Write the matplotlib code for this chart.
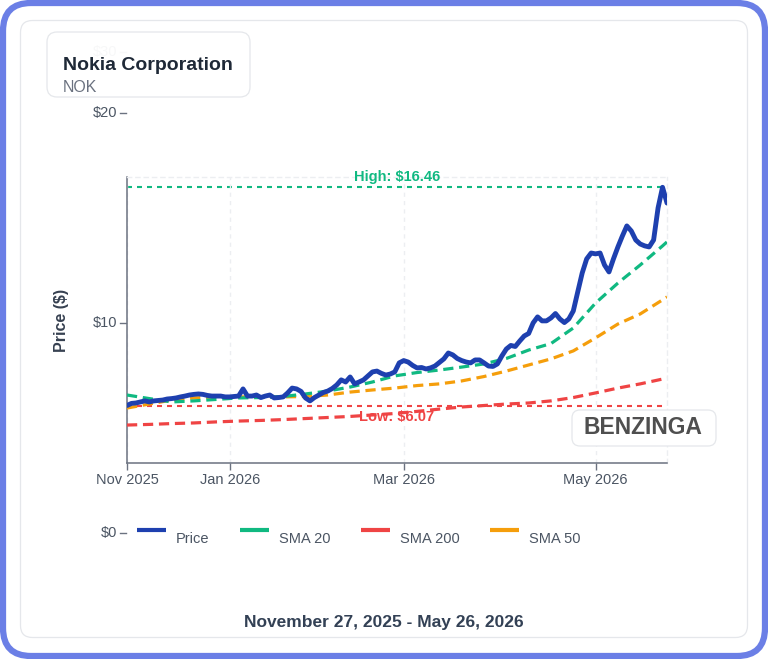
import numpy as np
import pandas as pd
import matplotlib
matplotlib.use("Agg")
import matplotlib.pyplot as plt
import matplotlib.transforms as mtransforms
from matplotlib.patches import FancyBboxPatch

plt.rcParams['font.family'] = ['Liberation Sans', 'DejaVu Sans']

# trading days shown on the chart (weekends + market holidays skipped)
holidays = ['2025-12-25', '2026-01-01', '2026-01-19', '2026-02-16', '2026-04-03', '2026-05-25']
dates = pd.bdate_range('2025-11-28', '2026-05-26', freq='C', holidays=holidays)

price = [6.07, 6.17, 6.19, 6.24, 6.29, 6.24, 6.29, 6.31, 6.33, 6.38,
         6.40, 6.43, 6.48, 6.52, 6.57, 6.60, 6.62, 6.60, 6.55, 6.52,
         6.52, 6.52, 6.48, 6.48, 6.50, 6.52, 6.86, 6.52, 6.52, 6.57,
         6.45, 6.52, 6.57, 6.43, 6.45, 6.48, 6.67, 6.90, 6.86, 6.74,
         6.43, 6.29, 6.45, 6.57, 6.69, 6.76, 6.88, 7.05, 7.29, 7.19,
         7.43, 7.10, 7.19, 7.29, 7.48, 7.67, 7.71, 7.60, 7.52, 7.57,
         7.67, 8.10, 8.21, 8.14, 7.98, 7.86, 7.88, 7.81, 7.86, 7.95,
         8.12, 8.29, 8.57, 8.48, 8.31, 8.21, 8.14, 8.10, 8.24, 8.24,
         8.10, 7.95, 7.93, 8.05, 8.43, 8.76, 8.93, 8.88, 9.14, 9.38,
         9.50, 10.00, 10.29, 10.10, 10.10, 10.24, 10.45, 10.19, 10.02, 10.19,
         10.57, 11.48, 12.38, 13.05, 13.33, 13.29, 13.33, 12.76, 12.43, 13.05,
         13.62, 14.14, 14.62, 14.38, 13.95, 13.76, 13.67, 13.62, 13.95, 15.48,
         16.46, 15.71]

# moving averages read every 5 trading days
sma_idx = list(range(0, 121, 5)) + [121]
sma20 = [6.57, 6.40, 6.24, 6.29, 6.36, 6.43, 6.45, 6.50, 6.62, 6.76, 6.95, 7.19, 7.48,
         7.64, 7.76, 7.90, 8.05, 8.31, 8.71, 9.02, 9.76, 10.95, 11.90, 12.76, 13.67, 13.86]
sma50 = [5.95, 6.14, 6.33, 6.43, 6.48, 6.48, 6.48, 6.48, 6.50, 6.57, 6.71, 6.81, 6.90,
         7.02, 7.10, 7.24, 7.45, 7.71, 8.00, 8.29, 8.67, 9.29, 9.95, 10.43, 11.10, 11.24]
sma200 = [5.14, 5.17, 5.21, 5.24, 5.29, 5.33, 5.36, 5.40, 5.45, 5.50, 5.55, 5.62, 5.69,
          5.79, 5.90, 6.00, 6.07, 6.14, 6.19, 6.29, 6.45, 6.67, 6.90, 7.10, 7.33, 7.38]

high_val = 16.46
low_val = 6.07
month_starts = ['2025-11-01', '2026-01-01', '2026-03-01', '2026-05-01']
month_labels = ['Nov 2025', 'Jan 2026', 'Mar 2026', 'May 2026']
y_tick_labels = ['$0', '$10', '$20', '$30']
# the source chart drew its $30 label squeezed up under the title card
y_tick_at = [0, 10, 20, 22.9]

C_PRICE = '#1e40af'
C_SMA20 = '#10b981'
C_SMA200 = '#ef4444'
C_SMA50 = '#f59e0b'
C_TICK = '#4b5563'

W, H = 768, 659
fig = plt.figure(figsize=(W / 100, H / 100), dpi=100)
fig.patch.set_facecolor('white')

# background layer in pixel coords
bg = fig.add_axes([0, 0, 1, 1], zorder=0)
bg.set_xlim(0, W)
bg.set_ylim(H, 0)
bg.axis('off')
bg.add_patch(FancyBboxPatch((3, 3), W - 6, H - 6, boxstyle='round,pad=0,rounding_size=28',
                            fc='white', ec='#6b7fe6', lw=4.5))
bg.add_patch(FancyBboxPatch((20.5, 20.5), 727, 617, boxstyle='round,pad=0,rounding_size=12',
                            fc='white', ec='#e5e7eb', lw=0.9))

# main chart
L, R, T, B = 127, 667, 177, 463
ax = fig.add_axes([L / W, (H - B) / H, (R - L) / W, (B - T) / H], zorder=2)
ax.set_facecolor('none')
x = np.arange(len(dates))
ax.set_xlim(0, len(dates) - 1)
ax.set_ylim(3.333, 16.95)

ax.axhline(high_val, color=C_SMA20, lw=1.5, dashes=(2.4, 2.4), zorder=1)
ax.axhline(low_val, color=C_SMA200, lw=1.5, dashes=(2.4, 2.4), zorder=1)

ax.plot(sma_idx, sma200, color=C_SMA200, lw=2.3, dashes=(3.2, 1.8), zorder=3)
ax.plot(sma_idx, sma50, color=C_SMA50, lw=2.3, dashes=(3.2, 1.8), zorder=3)
ax.plot(sma_idx, sma20, color=C_SMA20, lw=2.3, dashes=(3.2, 1.8), zorder=3)
ax.plot(x, price, color=C_PRICE, lw=3.5, solid_joinstyle='round', solid_capstyle='round', zorder=4)

ax.annotate(f'High: ${high_val:.2f}', xy=(0.5, high_val), xycoords=('axes fraction', 'data'),
            xytext=(0, 7.5), textcoords='offset points', ha='center', va='center',
            color=C_SMA20, fontsize=10.5, fontweight='bold', annotation_clip=False)
ax.annotate(f'Low: ${low_val:.2f}', xy=(0.5, low_val), xycoords=('axes fraction', 'data'),
            xytext=(0, -8.5), textcoords='offset points', ha='center', va='center',
            color=C_SMA200, fontsize=10.5, fontweight='bold', annotation_clip=False, zorder=2)

# x axis
tick_pos = [int(dates.searchsorted(pd.Timestamp(m))) for m in month_starts]
ax.set_xticks(tick_pos, month_labels)
ax.tick_params(axis='x', colors='#6b7280', labelcolor=C_TICK, labelsize=10.5, length=5, width=1, pad=2.5)
ax.grid(axis='x', color='#eceef1', lw=1, linestyle=(0, (3, 3)))

# y axis: plotly placed its tick labels off the plot scale, mimic with text
ax.set_yticks([])
ytr = mtransforms.blended_transform_factory(ax.transAxes, ax.transData)
for lab, v in zip(y_tick_labels, y_tick_at):
    ax.text(-10 / 540, v, lab, transform=ytr, ha='right', va='center',
            fontsize=10.5, color=C_TICK, clip_on=False)
    ax.plot([-7 / 540, -1 / 540], [v, v], transform=ytr, color='#6b7280', lw=1, clip_on=False)
ax.set_ylabel('Price ($)', fontsize=11.5, fontweight='bold', color='#374151')
ax.yaxis.set_label_coords(-58 / 540, 0.5)

for s in ['left', 'bottom']:
    ax.spines[s].set_color('#6b7280')
    ax.spines[s].set_linewidth(1.1)
for s in ['top', 'right']:
    ax.spines[s].set_color('#eceef1')
    ax.spines[s].set_linestyle((0, (3, 3)))
    ax.spines[s].set_linewidth(1)

# foreground layer
fg = fig.add_axes([0, 0, 1, 1], zorder=3)
fg.set_xlim(0, W)
fg.set_ylim(H, 0)
fg.axis('off')
fg.patch.set_alpha(0)

fg.add_patch(FancyBboxPatch((47, 32), 203, 65, boxstyle='round,pad=0,rounding_size=10',
                            fc=(1, 1, 1, 0.96), ec='#e5e7eb', lw=0.9))
fg.text(63, 65, 'Nokia Corporation', fontsize=14, fontweight='bold', color='#1f2937', va='center')
fg.text(63, 87, 'NOK', fontsize=11.5, color='#6b7280', va='center')

fg.add_patch(FancyBboxPatch((572, 410), 144, 36, boxstyle='round,pad=0,rounding_size=8',
                            fc='white', ec='#e5e7eb', lw=0.9))
fg.text(643, 428, 'BENZINGA', fontsize=16.5, fontweight='bold', color='#4f4f4f',
        ha='center', va='center')

# legend
legend_items = [('Price', C_PRICE, 137), ('SMA 20', C_SMA20, 240),
                ('SMA 200', C_SMA200, 361), ('SMA 50', C_SMA50, 490)]
for name, col, lx in legend_items:
    fg.plot([lx, lx + 29], [530, 530], color=col, lw=3, solid_capstyle='butt')
    fg.text(lx + 39, 539, name, fontsize=10.5, color=C_TICK, va='center')

fg.text(384, 623, 'November 27, 2025 - May 26, 2026', fontsize=12.5, fontweight='bold',
        color='#334155', ha='center', va='center')

fig.savefig('out.png', dpi=100, facecolor='white')
